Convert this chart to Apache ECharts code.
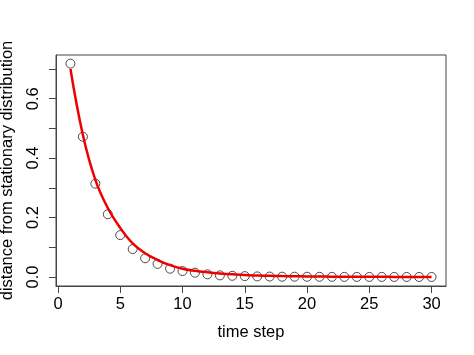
<!DOCTYPE html>
<html>
<head>
<meta charset="utf-8">
<script src="https://cdn.jsdelivr.net/npm/echarts@6/dist/echarts.min.js"></script>
<style>
  html, body { margin: 0; padding: 0; background: #fff; }
  #chart { width: 474px; height: 355px; }
</style>
</head>
<body>
<div id="chart"></div>
<script>
// time steps 1..30
var steps = [1, 2, 3, 4, 5, 6, 7, 8, 9, 10, 11, 12, 13, 14, 15,
             16, 17, 18, 19, 20, 21, 22, 23, 24, 25, 26, 27, 28, 29, 30];
// observed distance (circles)
var observed = [0.718, 0.472, 0.314, 0.211, 0.141, 0.094, 0.063, 0.044, 0.028, 0.020,
                0.0145, 0.009, 0.0055, 0.004, 0.003, 0.002, 0.0015, 0.001, 0.001, 0.0008,
                0.0006, 0.0005, 0.0004, 0.0003, 0.0002, 0.0002, 0.0001, 0.0001, 0.0001, 0.0001];
// fitted curve (red line)
var fitted = [0.700, 0.478, 0.327, 0.232, 0.165, 0.113, 0.080, 0.057, 0.040, 0.028,
              0.021, 0.016, 0.012, 0.009, 0.007, 0.005, 0.004, 0.003, 0.0025, 0.002,
              0.0015, 0.0012, 0.001, 0.0008, 0.0006, 0.0005, 0.0004, 0.0003, 0.0002, 0.0002];
// tick positions
var xTicks = [0, 5, 10, 15, 20, 25, 30];
var yTicks = [0, 0.1, 0.2, 0.3, 0.4, 0.5, 0.6, 0.7];
var yLabels = [0, 0.2, 0.4, 0.6];

var font = 'Liberation Sans, Arial, sans-serif';
var axisCol = '#444';

var chart = echarts.init(document.getElementById('chart'));
chart.setOption({
  animation: false,
  backgroundColor: '#fff',
  grid: {
    left: 56, right: 28, top: 55, bottom: 69,
    outerBoundsMode: 'none',
    containLabel: false,
    show: true, borderColor: axisCol, borderWidth: 1, backgroundColor: 'transparent'
  },
  xAxis: {
    type: 'value',
    min: -0.16, max: 31.16,
    name: 'time step',
    nameLocation: 'middle',
    nameGap: 38,
    nameTextStyle: { fontFamily: font, fontSize: 16.5, color: '#000' },
    axisLine: { show: true, onZero: false, lineStyle: { color: axisCol, width: 1 } },
    axisTick: { show: true, length: 7, customValues: xTicks, lineStyle: { color: axisCol } },
    axisLabel: { customValues: xTicks, margin: 10, fontFamily: font, fontSize: 16.5, color: '#000' },
    splitLine: { show: false }
  },
  yAxis: {
    type: 'value',
    min: -0.0303, max: 0.747,
    name: 'distance from stationary distribution',
    nameLocation: 'middle',
    nameRotate: 90,
    nameGap: 40,
    nameTextStyle: { fontFamily: font, fontSize: 16.5, color: '#000' },
    axisLine: { show: true, onZero: false, lineStyle: { color: axisCol, width: 1 } },
    axisTick: { show: true, length: 7, customValues: yTicks, lineStyle: { color: axisCol } },
    axisLabel: {
      customValues: yLabels, rotate: 90, margin: 14,
      fontFamily: font, fontSize: 16.5, color: '#000',
      formatter: function (v) { return v.toFixed(1); }
    },
    splitLine: { show: false }
  },
  series: [
    {
      type: 'scatter',
      data: steps.map(function (s, i) { return [s, observed[i]]; }),
      symbol: 'circle',
      symbolSize: 9,
      itemStyle: { color: 'transparent', borderColor: '#222', borderWidth: 1 },
      z: 2
    },
    {
      type: 'line',
      data: steps.map(function (s, i) { return [s, fitted[i]]; }),
      smooth: 0.4,
      showSymbol: false,
      lineStyle: { color: '#ee0000', width: 2.5 },
      z: 3
    }
  ]
});
</script>
</body>
</html>
